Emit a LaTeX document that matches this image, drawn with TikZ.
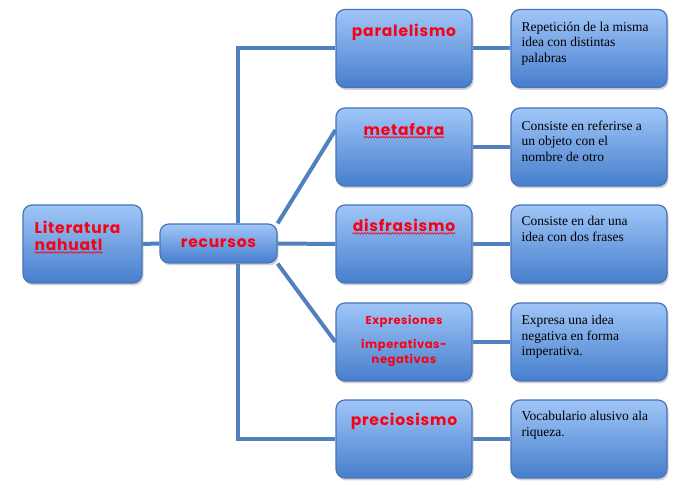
\documentclass[tikz,border=0pt]{standalone}
\usepackage{fontspec}
\setmainfont{Liberation Serif}
\newfontfamily\comicfont[LetterSpace=5]{Poppins}
\usetikzlibrary{positioning,shadows,backgrounds,decorations.pathmorphing}

\definecolor{boxtop}{RGB}{160,198,248}
\definecolor{boxbot}{RGB}{70,126,204}
\definecolor{boxline}{RGB}{72,116,184}
\definecolor{linkblue}{RGB}{80,128,190}
\definecolor{redtext}{RGB}{250,0,20}

\tikzset{
  bluebox/.style={draw=boxline, line width=1.2pt, rounded corners=9pt,
    top color=boxtop, bottom color=boxbot, inner sep=0pt,
    drop shadow={opacity=0.35,shadow xshift=1.5pt,shadow yshift=-2.5pt}},
  headbox/.style={bluebox, minimum width=136pt, minimum height=78pt},
  notebox/.style={bluebox, minimum width=156pt, minimum height=78pt},
  headtext/.style={font=\comicfont\bfseries\fontsize{15.5}{18}\selectfont, text=redtext, inner sep=0pt},
  smalltext/.style={font=\comicfont\bfseries\fontsize{11.5}{15}\selectfont, text=redtext, inner sep=0pt, align=center},
  notetext/.style={font=\fontsize{13.5}{15.5}\selectfont,
    text width=129.5pt, align=flush left, anchor=north west, inner sep=0pt},
  link/.style={draw=linkblue, line width=4pt},
  typo/.style={draw=redtext, line width=0.6pt, decorate, decoration={snake, amplitude=0.8pt, segment length=2.8pt}}
}

\begin{document}
\hyphenpenalty=10000
\exhyphenpenalty=10000
\begin{tikzpicture}[x=1pt,y=1pt]
\useasboundingbox (0,0) rectangle (673,487);

% left side
\node[bluebox, minimum width=119pt, minimum height=78pt] (lit) at (82.5,243) {};
\node[bluebox, minimum width=117pt, minimum height=39pt] (rec) at (218.5,243.5) {};

% recursos
\node[headbox] (m1) at (404,438.5) {};
\node[headbox] (m2) at (404,340) {};
\node[headbox] (m3) at (404,243) {};
\node[headbox] (m4) at (404,145) {};
\node[headbox] (m5) at (404,48) {};

% definiciones
\node[notebox] (r1) at (589,438.5) {};
\node[notebox] (r2) at (589,340) {};
\node[notebox] (r3) at (589,243) {};
\node[notebox] (r4) at (589,145) {};
\node[notebox] (r5) at (589,48) {};

% connectors
\coordinate (trunk) at (238,243);
\begin{scope}[on background layer]
    \draw[link] (lit.east) -- (rec.west);
    \draw[link] (trunk |- rec.north) |- (m1.west);
    \draw[link] (trunk |- rec.south) |- (m5.west);
    \draw[link] (rec.north east) -- ([yshift=17]m2.west);
    \draw[link] (rec.east) -- (m3.west);
    \draw[link] (rec.south east) -- (m4.west);
    \foreach \i in {1,...,5}
        \draw[link] (m\i.east) -- (r\i.west);
\end{scope}

% labels
\node[headtext, anchor=west] (lt1) at ([xshift=12,yshift=17]lit.west) {Literatura};
\node[headtext, anchor=west] (lt2) at ([xshift=12,yshift=-1]lit.west) {nahuatl};
\node[headtext] (rt) at (rec.center) {recursos};

\node[headtext] (m1t) at ([yshift=-23]m1.north) {paralelismo};
\node[headtext] (m2t) at ([yshift=-22]m2.north) {metafora};
\node[headtext] (m3t) at ([yshift=-21]m3.north) {disfrasismo};
\node[smalltext] (m4t) at ([yshift=-19]m4.north) {Expresiones};
\node[smalltext] (m4u) at ([yshift=-51]m4.north) {imperativas-\\negativas};
\node[headtext] (m5t) at ([yshift=-22]m5.north) {preciosismo};

\draw[typo] ([yshift=-1.5]lt2.south west) -- ([yshift=-1.5]lt2.south east);
\draw[typo] ([yshift=-1.5]m2t.south west) -- ([yshift=-1.5]m2t.south east);
\draw[typo] ([yshift=-1.5]m3t.south west) -- ([yshift=-1.5]m3t.south east);

\node[notetext] (r1t) at ([xshift=11,yshift=-13]r1.north west) {Repetición de la misma idea con distintas palabras};
\node[notetext] (r2t) at ([xshift=11,yshift=-13]r2.north west) {Consiste en referirse a un objeto con el nombre de otro};
\node[notetext] (r3t) at ([xshift=11,yshift=-12]r3.north west) {Consiste en dar una idea con dos frases};
\node[notetext] (r4t) at ([xshift=11,yshift=-13]r4.north west) {Expresa una idea negativa en forma imperativa.};
\node[notetext] (r5t) at ([xshift=11,yshift=-12]r5.north west) {Vocabulario alusivo ala riqueza.};
\end{tikzpicture}
\end{document}
